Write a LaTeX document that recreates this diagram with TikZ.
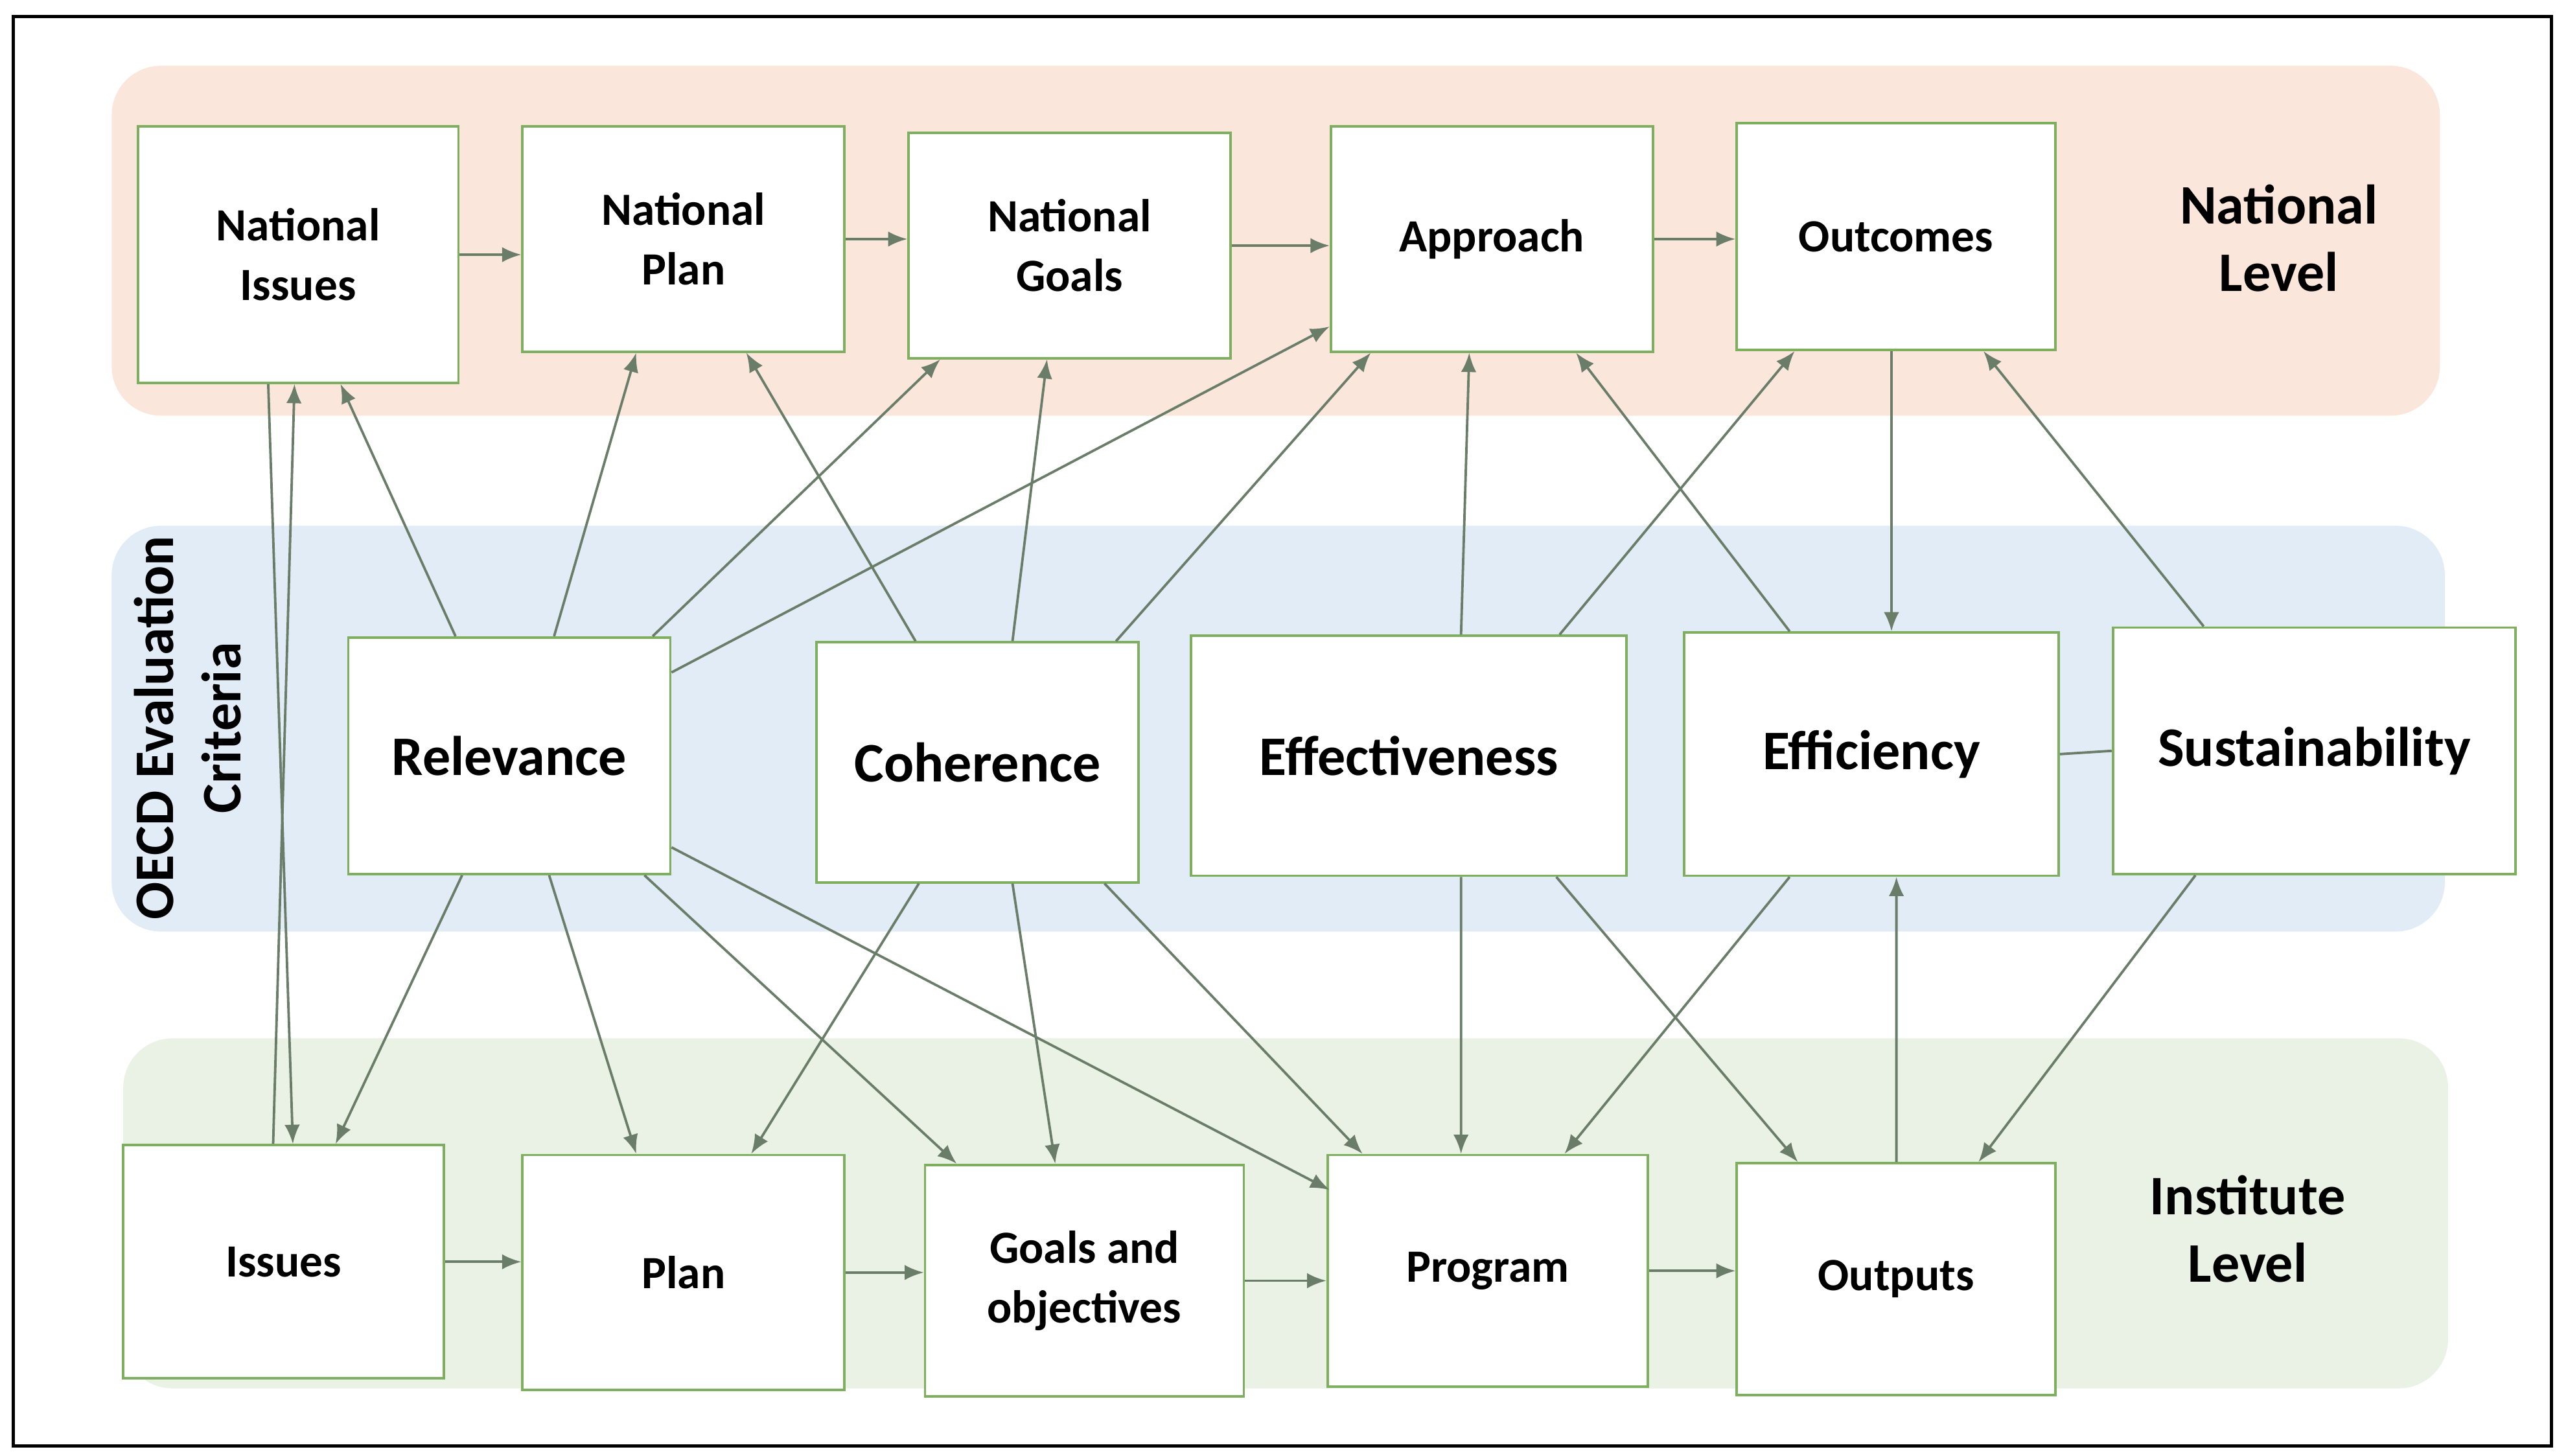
\documentclass[tikz,border=0pt]{standalone}
\usepackage{fontspec}
\setmainfont{Carlito}
\usetikzlibrary{calc,arrows.meta}
\definecolor{bandA}{RGB}{251,230,220}
\definecolor{bandB}{RGB}{226,236,246}
\definecolor{bandC}{RGB}{234,241,229}
\definecolor{boxc}{RGB}{125,175,95}
\definecolor{linec}{RGB}{105,125,105}
\tikzset{
 box/.style={draw=boxc,fill=white,line width=0.045cm,align=center,font=\bfseries\fontsize{24}{31}\selectfont},
 crit/.style={box,font=\bfseries\fontsize{29}{34}\selectfont},
 conn/.style={draw=linec,line width=0.045cm,-{Latex[length=0.35cm,width=0.28cm]}},
 lvl/.style={align=center,font=\bfseries\fontsize{29}{35}\selectfont},
 band/.style={rounded corners=0.9cm}
}
\begin{document}
\begin{tikzpicture}[x=0.03cm,y=-0.03cm]
\useasboundingbox (0,0) rectangle (1563,886);
\fill[white] (0,0) rectangle (1563,886);
\draw[line width=0.06cm] (8,10) rectangle (1553,880);
\fill[bandA,band] (68,40) rectangle (1485,253);
\fill[bandB,band] (68,320) rectangle (1488,567);
\fill[bandC,band] (75,632) rectangle (1490,845);
\node[box,minimum width=5.85cm,minimum height=4.68cm] (ni) at (181.5,155) {National\\Issues};
\node[box,minimum width=5.88cm,minimum height=4.11cm] (np) at (416,145.5) {National\\Plan};
\node[box,minimum width=5.88cm,minimum height=4.11cm] (ng) at (651,149.5) {National\\Goals};
\node[box,minimum width=5.88cm,minimum height=4.11cm] (ap) at (908,145.5) {Approach};
\node[box,minimum width=5.82cm,minimum height=4.14cm] (out) at (1154,144) {Outcomes};
\node[crit,minimum width=5.88cm,minimum height=4.32cm] (rel) at (310,460) {Relevance};
\node[crit,minimum width=5.88cm,minimum height=4.38cm] (coh) at (595,464) {Coherence};
\node[crit,minimum width=7.95cm,minimum height=4.38cm] (eff) at (857.5,460) {Effectiveness};
\node[crit,minimum width=6.84cm,minimum height=4.44cm] (effi) at (1139,459) {Efficiency};
\node[crit,minimum width=7.35cm,minimum height=4.5cm] (sus) at (1408.5,457) {Sustainability};
\node[box,minimum width=5.85cm,minimum height=4.26cm] (iss) at (172.5,768) {Issues};
\node[box,minimum width=5.88cm,minimum height=4.29cm] (plan) at (416,774.5) {Plan};
\node[box,minimum width=5.82cm,minimum height=4.23cm] (goals) at (660,779.5) {Goals and\\objectives};
\node[box,minimum width=5.85cm,minimum height=4.23cm] (prog) at (905.5,773.5) {Program};
\node[box,minimum width=5.82cm,minimum height=4.23cm] (outp) at (1154,778.5) {Outputs};
\node[lvl] (nl) at (1387,145) {National\\Level};
\node[lvl] (il) at (1368,748) {Institute\\Level};
\node[lvl,rotate=90] (oecd) at (114,443) {OECD Evaluation\\Criteria};
% rows
\draw[conn] (ni.east) -- (ni.east -| np.west);
\draw[conn] (np.east) -- (np.east -| ng.west);
\draw[conn] (ng.east) -- (ng.east -| ap.west);
\draw[conn] (ap.east) -- (ap.east -| out.west);
\draw[conn] (iss.east) -- (iss.east -| plan.west);
\draw[conn] (plan.east) -- (plan.east -| goals.west);
\draw[conn] (goals.east) -- (goals.east -| prog.west);
\draw[conn] (prog.east) -- (prog.east -| outp.west);
% NI <-> Iss
\draw[conn] ($(ni.south west)+(80,0)$) -- ($(iss.north west)+(104,0)$);
\draw[conn] ($(iss.north west)+(92,0)$) -- ($(ni.south west)+(96,0)$);
% relevance
\draw[conn] ($(rel.north west)+(66,0)$) -- ($(ni.south west)+(124,0)$);
\draw[conn] ($(rel.north west)+(126,0)$) -- ($(np.south west)+(70,0)$);
\draw[conn] ($(rel.north west)+(186,0)$) -- ($(ng.south west)+(20,0)$);
\draw[conn] ($(rel.north east)+(0,22)$) -- ($(ap.south west)+(0,-16)$);
\draw[conn] ($(rel.south west)+(70,0)$) -- ($(iss.north west)+(130,0)$);
\draw[conn] ($(rel.south west)+(123,0)$) -- ($(plan.north west)+(70,0)$);
\draw[conn] ($(rel.south west)+(181,0)$) -- ($(goals.north west)+(20,0)$);
\draw[conn] ($(rel.south east)+(0,-17)$) -- ($(prog.north west)+(2,22)$);
% coherence
\draw[conn] ($(coh.north west)+(61,0)$) -- ($(np.south west)+(137,0)$);
\draw[conn] ($(coh.north west)+(120,0)$) -- ($(ng.south west)+(85,0)$);
\draw[conn] ($(coh.north west)+(183,0)$) -- ($(ap.south west)+(25,0)$);
\draw[conn] ($(coh.south west)+(63,0)$) -- ($(plan.north west)+(140,0)$);
\draw[conn] ($(coh.south west)+(120,0)$) -- ($(goals.north west)+(80,0)$);
\draw[conn] ($(coh.south west)+(176,0)$) -- ($(prog.north west)+(22,0)$);
% effectiveness
\draw[conn] ($(eff.north west)+(165,0)$) -- ($(ap.south west)+(85,0)$);
\draw[conn] ($(eff.north west)+(225,0)$) -- ($(out.south west)+(36,0)$);
\draw[conn] ($(eff.south west)+(165,0)$) -- ($(prog.north west)+(82,0)$);
\draw[conn] ($(eff.south west)+(223,0)$) -- ($(outp.north west)+(38,0)$);
% efficiency
\draw[conn] ($(effi.north west)+(65,0)$) -- ($(ap.south west)+(150,0)$);
\draw[conn] ($(out.south west)+(95,0)$) -- ($(effi.north west)+(127,0)$);
\draw[conn] ($(effi.south west)+(65,0)$) -- ($(prog.north west)+(145,0)$);
\draw[conn] ($(outp.north west)+(98,0)$) -- ($(effi.south west)+(130,0)$);
% sustainability
\draw[draw=linec,line width=0.045cm] (sus.west) -- (effi.east);
\draw[conn] ($(sus.north west)+(56,0)$) -- ($(out.south west)+(151,0)$);
\draw[conn] ($(sus.south west)+(51,0)$) -- ($(outp.north west)+(148,0)$);
\end{tikzpicture}
\end{document}
